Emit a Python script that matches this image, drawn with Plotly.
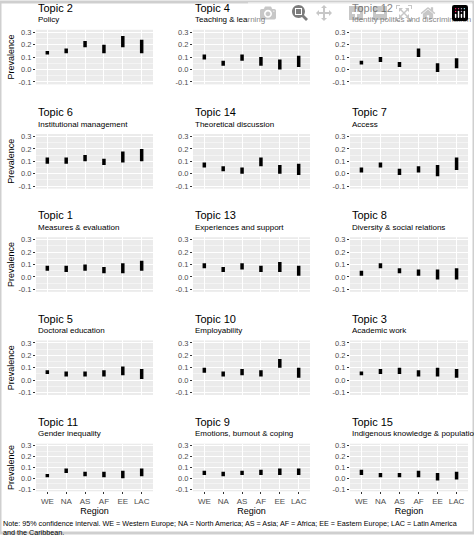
import plotly.graph_objects as go

regions = ["WE", "NA", "AS", "AF", "EE", "LAC"]
topics = ["Topic 2", "Topic 4", "Topic 12", "Topic 6", "Topic 14", "Topic 7",
          "Topic 1", "Topic 13", "Topic 8", "Topic 5", "Topic 10", "Topic 3",
          "Topic 11", "Topic 9", "Topic 15"]
labels = ["Policy", "Teaching & learning", "Identity politics and discrimination",
          "Institutional management", "Theoretical discussion", "Access",
          "Measures & evaluation", "Experiences and support", "Diversity & social relations",
          "Doctoral education", "Employability", "Academic work",
          "Gender inequality", "Emotions, burnout & coping", "Indigenous knowledge & population"]
lower = [
    [0.12, 0.13, 0.18, 0.13, 0.18, 0.13],
    [0.08, 0.03, 0.07, 0.03, 0.00, 0.02],
    [0.04, 0.06, 0.02, 0.10, -0.02, 0.01],
    [0.08, 0.08, 0.10, 0.07, 0.09, 0.10],
    [0.05, 0.02, 0.00, 0.06, 0.00, -0.01],
    [0.01, 0.05, -0.01, 0.01, -0.02, 0.03],
    [0.05, 0.04, 0.05, 0.03, 0.03, 0.05],
    [0.07, 0.04, 0.06, 0.04, 0.04, 0.01],
    [0.01, 0.07, 0.03, 0.01, -0.02, -0.02],
    [0.05, 0.03, 0.03, 0.03, 0.04, 0.01],
    [0.06, 0.03, 0.04, 0.03, 0.10, 0.02],
    [0.04, 0.05, 0.05, 0.03, 0.03, 0.02],
    [0.01, 0.05, 0.02, 0.01, 0.00, 0.02],
    [0.03, 0.02, 0.03, 0.03, 0.03, 0.03],
    [0.03, 0.01, 0.01, 0.01, -0.02, -0.01],
]
upper = [
    [0.15, 0.17, 0.23, 0.20, 0.27, 0.24],
    [0.12, 0.07, 0.12, 0.10, 0.08, 0.11],
    [0.07, 0.10, 0.06, 0.17, 0.05, 0.09],
    [0.13, 0.13, 0.15, 0.12, 0.18, 0.20],
    [0.09, 0.06, 0.05, 0.13, 0.07, 0.08],
    [0.05, 0.09, 0.04, 0.06, 0.07, 0.13],
    [0.09, 0.09, 0.10, 0.08, 0.11, 0.13],
    [0.11, 0.08, 0.11, 0.09, 0.12, 0.09],
    [0.05, 0.11, 0.07, 0.06, 0.06, 0.07],
    [0.08, 0.07, 0.07, 0.08, 0.11, 0.09],
    [0.10, 0.07, 0.09, 0.08, 0.17, 0.10],
    [0.07, 0.09, 0.10, 0.08, 0.10, 0.09],
    [0.04, 0.09, 0.06, 0.06, 0.07, 0.09],
    [0.07, 0.06, 0.07, 0.08, 0.09, 0.09],
    [0.08, 0.05, 0.05, 0.07, 0.05, 0.06],
]

W, H = 474, 535
cols_px = [(36, 153), (193, 310), (350, 468)]
rows_px = [(28, 83), (133, 188), (237, 292), (341, 396), (445, 493)]
font = "Liberation Sans, Arial, sans-serif"

fig = go.Figure()
annotations = []
for i in range(15):
    r, c = divmod(i, 3)
    n = i + 1
    xa = "xaxis" if n == 1 else f"xaxis{n}"
    ya = "yaxis" if n == 1 else f"yaxis{n}"
    xs, ys = [], []
    for k, reg in enumerate(regions):
        xs += [reg, reg, None]
        ys += [lower[i][k], upper[i][k], None]
    fig.add_trace(go.Scatter(x=xs, y=ys, mode="lines", line=dict(color="black", width=3.5),
                             xaxis=f"x{n}" if n > 1 else "x", yaxis=f"y{n}" if n > 1 else "y",
                             showlegend=False, hoverinfo="skip"))
    x0, x1 = cols_px[c]
    y0, y1 = rows_px[r]
    last = r == 4
    fig.layout[xa] = dict(domain=[x0 / W, x1 / W], anchor=f"y{n}" if n > 1 else "y",
                          type="category", categoryorder="array", categoryarray=regions,
                          range=[-0.6, 5.6], showticklabels=last, ticks="outside" if last else "",
                          ticklen=2, tickcolor="#333", gridcolor="white", gridwidth=1,
                          tickfont=dict(size=8, color="#4d4d4d", family=font),
                          title=dict(text="Region" if last else "", font=dict(size=9, family=font, color="black"),
                                     standoff=0),
                          zeroline=False, showline=False)
    fig.layout[ya] = dict(domain=[1 - y1 / H, 1 - y0 / H], anchor=f"x{n}" if n > 1 else "x",
                          range=[-0.12, 0.32], tickvals=[-0.1, 0, 0.1, 0.2, 0.3],
                          ticktext=["-0.1", "0.0", "0.1", "0.2", "0.3"], ticks="outside",
                          ticklen=2, tickcolor="#333", gridcolor="white", gridwidth=1,
                          minor=dict(dtick=0.05, tick0=0.05, gridcolor="#f4f4f4", gridwidth=0.5),
                          tickfont=dict(size=7.5, color="#4d4d4d", family=font),
                          title=dict(text="Prevalence" if c == 0 else "",
                                     font=dict(size=9, family=font, color="black"), standoff=2),
                          zeroline=False, showline=False)
    annotations.append(dict(text=topics[i], x=x0 / W, y=1 - (y0 - 22) / H, xref="paper", yref="paper",
                            xanchor="left", yanchor="middle", showarrow=False,
                            font=dict(size=11, family=font, color="black")))
    annotations.append(dict(text=labels[i], x=x0 / W, y=1 - (y0 - 10) / H, xref="paper", yref="paper",
                            xanchor="left", yanchor="middle", showarrow=False,
                            font=dict(size=8, family=font, color="black")))

annotations.append(dict(text="Note: 95% confidence interval. WE = Western Europe; NA = North America; AS = Asia; "
                             "AF = Africa; EE = Eastern Europe; LAC = Latin America<br>and the Caribbean.",
                        x=0.003, y=1 - 519 / H, xref="paper", yref="paper", xanchor="left", yanchor="top",
                        align="left", showarrow=False, font=dict(size=7.2, family=font, color="black")))

fig.update_layout(width=W, height=H, margin=dict(l=0, r=0, t=0, b=0),
                  paper_bgcolor="white", plot_bgcolor="#ebebeb", annotations=annotations,
                  shapes=[dict(type="rect", xref="paper", yref="paper", x0=0, y0=0, x1=1, y1=1,
                               line=dict(color="#cfcfcf", width=3))])

fig.write_html("out.html", post_script="document.body.style.margin='0';document.body.style.overflow='hidden';")
